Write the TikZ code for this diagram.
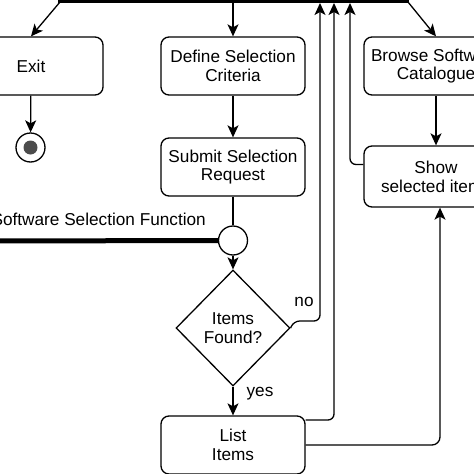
\documentclass[tikz,border=0pt]{standalone}
\usepackage{fontspec}
\setmainfont{Liberation Sans}
\usetikzlibrary{shapes.geometric,arrows.meta}

\begin{document}
\begin{tikzpicture}[x=1pt,y=-1pt,
  font=\fontsize{17.2}{18.8}\selectfont,
  act/.style={draw,line width=1.3pt,rounded corners=8pt,minimum width=144pt,
    minimum height=58pt,inner sep=0pt,align=center},
  flow/.style={line width=1.3pt,-{Stealth[length=12pt,width=11pt,inset=3pt]}},
  bar/.style={line width=5pt}]
  \useasboundingbox (0,0) rectangle (474,474);

  % fork bar and its ends
  \coordinate (barL) at (58,0.5);
  \coordinate (barR) at (409,0.5);
  \coordinate (f1) at (60,2);
  \coordinate (f2) at (233,2);
  \coordinate (f3) at (408,2);
  \coordinate (j1) at (320,3);
  \coordinate (j2) at (334,3);
  \coordinate (j3) at (350,3);
  \coordinate (swend) at (-10,241);
  \draw[bar] (barL) -- (barR);

  % activities
  \node[act] (exit) at (31,66) {Exit};
  \node[act] (crit) at (233,66) {Define Selection\\Criteria};
  \node[act] (subm) at (233,167) {Submit Selection\\Request};
  \node[act] (list) at (233,445) {List\\Items};
  \node[act] (brow) at (436,66) {Browse Software\\Catalogue};
  \node[act,minimum height=61pt] (show) at (436,176.5) {Show\\selected items};
  \node[draw,diamond,line width=1.3pt,minimum width=114pt,minimum height=116pt,
    inner sep=0pt,align=center] (found) at (233,328) {Items\\Found?};
  \node[draw,circle,line width=1.3pt,minimum size=29pt,inner sep=0pt] (join) at (233,240.5) {};
  \node[draw,circle,line width=1.3pt,minimum size=29pt,inner sep=0pt] (final) at (30.5,147.5) {};
  \fill[black!70] (final.center) circle (7pt);

  % sub-function line
  \draw[bar] (join.west) -- (swend);
  \node[anchor=east,inner sep=0pt] (swlabel) at (206,219) {Software Selection Function};

  % connectors
  \draw[flow] (f1) -- (exit.north);
  \draw[flow] (f2) -- (crit.north);
  \draw[flow] (f3) -- (brow.north);
  \draw[flow] (exit) -- (final);
  \draw[flow] (crit) -- (subm);
  \draw[line width=1.3pt] (subm) -- (join);
  \draw[flow] (join) -- (found);
  \draw[flow] (found) -- (list);
  \draw[flow] (brow) -- (show);
  \draw[flow,rounded corners=6pt] (found.east) -- ++(3,-7) -| (j1);
  \draw[flow,rounded corners=6pt] ([yshift=25pt]list.east) -| (j2);
  \draw[flow,rounded corners=6pt] ([yshift=12pt]show.west) -| (j3);
  \draw[flow,rounded corners=8pt] (list.east) -| ([xshift=4pt]show.south);

  \node (no) at (304,302) {no};
  \node (yes) at (260,394) {yes};
\end{tikzpicture}
\end{document}
